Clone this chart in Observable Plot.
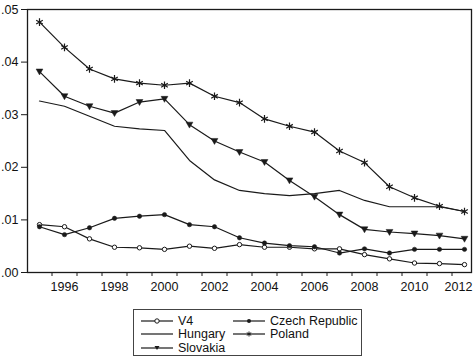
<!DOCTYPE html>
<html>
<head>
<meta charset="utf-8">
<script src="https://cdn.jsdelivr.net/npm/d3@7"></script>
<script src="https://cdn.jsdelivr.net/npm/@observablehq/plot@0.6"></script>
<style>
  html, body { margin: 0; padding: 0; background: #fff; }
  #wrap { position: relative; width: 474px; height: 359px; overflow: hidden; font-family: "Liberation Sans", Arial, sans-serif; }
  #legend { position: absolute; left: 133px; top: 309px; width: 229px; height: 47px; border: 1px solid #444; box-sizing: border-box; font-size: 12.5px; color: #111; }
  .item { position: absolute; height: 14px; line-height: 14px; white-space: nowrap; }
  .item svg { position: absolute; left: 0; top: 0; }
  .item span { position: absolute; left: 37px; top: 0; }
</style>
</head>
<body>
<div id="wrap"></div>
<script>
const years = [1995,1996,1997,1998,1999,2000,2001,2002,2003,2004,2005,2006,2007,2008,2009,2010,2011,2012];
const seriesNames = ["V4", "Czech Republic", "Hungary", "Poland", "Slovakia"];
const v4       = [0.0091,0.0087,0.0064,0.0048,0.0047,0.0044,0.0050,0.0046,0.0053,0.0048,0.0048,0.0045,0.0045,0.0034,0.0026,0.0018,0.0017,0.0015];
const czech    = [0.0087,0.0072,0.0085,0.0103,0.0107,0.0110,0.0091,0.0087,0.0066,0.0056,0.0051,0.0049,0.0037,0.0045,0.0037,0.0044,0.0044,0.0044];
const hungary  = [0.0326,0.0316,0.0297,0.0278,0.0273,0.0270,0.0213,0.0176,0.0156,0.0150,0.0146,0.0150,0.0156,0.0137,0.0125,0.0125,0.0125,0.0116];
const poland   = [0.0476,0.0428,0.0387,0.0368,0.0360,0.0356,0.0360,0.0335,0.0323,0.0292,0.0278,0.0267,0.0231,0.0209,0.0163,0.0142,0.0126,0.0116];
const slovakia = [0.0382,0.0335,0.0316,0.0303,0.0324,0.0330,0.0281,0.0250,0.0229,0.0210,0.0175,0.0144,0.0110,0.0082,0.0077,0.0074,0.0070,0.0064];
const yTicks = [0, 0.01, 0.02, 0.03, 0.04, 0.05];
const xLabelYears = [1996,1998,2000,2002,2004,2006,2008,2010,2012];

const valuesByName = {"V4": v4, "Czech Republic": czech, "Hungary": hungary, "Poland": poland, "Slovakia": slovakia};
const data = seriesNames.flatMap(name => years.map((year, i) => ({name, year, value: valuesByName[name][i]})));
const only = n => data.filter(d => d.name === n);

const triangleDown = {
  draw(ctx, size) {
    const s = Math.sqrt(size / Math.PI);
    ctx.moveTo(-s, -s * 0.75);
    ctx.lineTo(s, -s * 0.75);
    ctx.lineTo(0, s);
    ctx.closePath();
  }
};

const ink = "#1a1a1a";
const halfYears = years.slice(0, -1).map(y => y + 0.5);
const lastLabel = xLabelYears[xLabelYears.length - 1];

const chart = Plot.plot({
  width: 474,
  height: 300,
  marginLeft: 27,
  marginRight: 3,
  marginTop: 9,
  marginBottom: 28,
  style: {fontFamily: "'Liberation Sans', Arial, sans-serif", fontSize: "12.5px", color: "#111", background: "#fff"},
  x: {domain: [1994.52, 2012.28]},
  y: {domain: [0, 0.05]},
  marks: [
    Plot.lineY(data, {x: "year", y: "value", z: "name", stroke: ink, strokeWidth: 1.2}),
    Plot.dot(only("V4"), {x: "year", y: "value", r: 2.2, fill: "#fff", stroke: ink, strokeWidth: 1}),
    Plot.dot(only("Czech Republic"), {x: "year", y: "value", r: 2.2, fill: ink, stroke: ink, strokeWidth: 0.5}),
    Plot.dot(only("Poland"), {x: "year", y: "value", r: 3.6, symbol: "asterisk", stroke: ink, strokeWidth: 1.2}),
    Plot.dot(only("Slovakia"), {x: "year", y: "value", r: 3.4, symbol: triangleDown, fill: ink, stroke: ink, strokeWidth: 0.5}),
    Plot.frame({stroke: ink, strokeWidth: 1.3}),
    Plot.axisY({ticks: yTicks, tickSize: 6, tickPadding: 3, tickFormat: d => d3.format(".2f")(d).replace(/^0/, ""), label: null, stroke: ink}),
    Plot.axisX({ticks: halfYears, tickSize: 4, tickFormat: () => "", label: null, stroke: ink}),
    Plot.axisX({ticks: xLabelYears.slice(0, -1), tickSize: 0, tickPadding: 10, tickFormat: d => String(d), label: null}),
    Plot.axisX({ticks: [lastLabel], tickSize: 0, tickPadding: 10, tickFormat: d => String(d), label: null, dx: -6})
  ]
});

const wrap = document.getElementById("wrap");
wrap.appendChild(chart);

const legendSpec = [
  {name: "V4", left: 7, top: 4, marker: '<circle cx="16" cy="7" r="2.2" fill="#fff" stroke="#1a1a1a"/>'},
  {name: "Czech Republic", left: 99, top: 4, marker: '<circle cx="16" cy="7" r="2" fill="#1a1a1a"/>'},
  {name: "Hungary", left: 7, top: 17, marker: ''},
  {name: "Poland", left: 99, top: 17, marker: '<path d="M16,4.5V9.5M13.8,5.7L18.2,8.3M13.8,8.3L18.2,5.7" stroke="#1a1a1a" stroke-width="1"/>'},
  {name: "Slovakia", left: 7, top: 31, marker: '<path d="M13.5,5L18.5,5L16,9Z" fill="#1a1a1a"/>'}
];
const legend = document.createElement("div");
legend.id = "legend";
for (const it of legendSpec) {
  const el = document.createElement("div");
  el.className = "item";
  el.style.left = it.left + "px";
  el.style.top = it.top + "px";
  el.innerHTML = '<svg width="34" height="14"><line x1="0" x2="32" y1="7" y2="7" stroke="#1a1a1a" stroke-width="1.2"/>' + it.marker + '</svg><span>' + it.name + '</span>';
  legend.appendChild(el);
}
wrap.appendChild(legend);
</script>
</body>
</html>
